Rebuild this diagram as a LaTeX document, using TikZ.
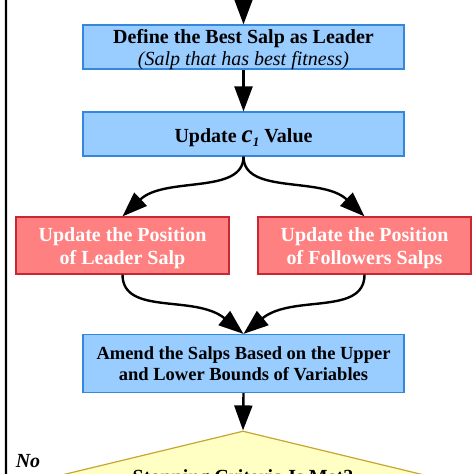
\documentclass[tikz,border=0pt]{standalone}
\usepackage{fontspec}
\setmainfont{Liberation Serif}
\usetikzlibrary{arrows.meta,shapes.geometric}
\definecolor{bluefill}{RGB}{153,204,255}
\definecolor{blueline}{RGB}{51,136,221}
\definecolor{redfill}{RGB}{255,128,128}
\definecolor{redline}{RGB}{200,40,50}
\definecolor{yelfill}{RGB}{255,255,195}
\definecolor{yelline}{RGB}{200,165,50}
\tikzset{
  bluebox/.style={draw=blueline,fill=bluefill,line width=1.2pt,minimum width=321pt,inner sep=0pt,align=center,font=\fontsize{20}{23}\selectfont\bfseries},
  redbox/.style={draw=redline,fill=redfill,line width=1.2pt,minimum width=213pt,minimum height=57pt,inner sep=0pt,align=center,text=white,font=\fontsize{20}{23}\selectfont\bfseries},
  decbox/.style={diamond,draw=yelline,fill=yelfill,line width=1.2pt,minimum width=396pt,minimum height=96pt,inner sep=0pt,aspect=4.125,font=\fontsize{20}{22}\selectfont\bfseries},
  boxtext/.style={inner sep=0pt},
  arr/.style={line width=2.4pt,-{Triangle[length=25pt,width=18pt]}},
  loopline/.style={line width=2.2pt}
}
\begin{document}
\begin{tikzpicture}[x=1pt,y=-1pt]
\useasboundingbox (0,0) rectangle (474,474);
\node[bluebox,minimum height=44pt] (b1) at (243.5,47) {};
\node[boxtext,font=\fontsize{20}{20}\selectfont\bfseries] (b1a) at (243.5,39) {Define the Best Salp as Leader};
\node[boxtext,font=\fontsize{20}{20}\selectfont\itshape] (b1b) at (243.5,60.5) {(Salp that has best fitness)};
\node[bluebox,minimum height=44pt] (b2) at (243.5,134) {\rule{0pt}{21pt}Update {\fontsize{25}{25}\selectfont\itshape c}\raisebox{-0.4ex}{\fontsize{13}{13}\selectfont\itshape 1} Value};
\node[redbox] (rl) at (122.5,245.5) {\rule{0pt}{20pt}Update the Position\\of Leader Salp};
\node[redbox] (rr) at (364.5,245.5) {\rule{0pt}{20pt}Update the Position\\of Followers Salps};
\node[bluebox,minimum height=58pt,font=\fontsize{18.5}{21}\selectfont\bfseries] (b3) at (243.5,363.5) {Amend the Salps Based on the Upper\\and Lower Bounds of Variables};
\node[decbox] (d) at (243,479) {Stopping Criteria Is Met?};
\node[font=\fontsize{20}{20}\selectfont\bfseries\itshape] (no) at (28,461) {No};
\coordinate (topin) at (243.5,-10);
\coordinate (looptop) at (6,-10);
\coordinate (loopbot) at (6,477);
\draw[arr] (topin) -- (b1.north);
\draw[arr] (b1.south) -- (b2.north);
\draw[arr] (b2.south) .. controls (243.5,195) and (165,176) .. (rl.north);
\draw[arr] (b2.south) .. controls (243.5,195) and (322,176) .. (rr.north);
\draw[arr] (rl.south) .. controls (122.5,316) and (195,294) .. (b3.north);
\draw[arr] (rr.south) .. controls (364.5,316) and (292,294) .. (b3.north);
\draw[arr] (b3.south) -- (d.north);
\draw[loopline] (d.west) -- (loopbot) -- (looptop);
\end{tikzpicture}
\end{document}
